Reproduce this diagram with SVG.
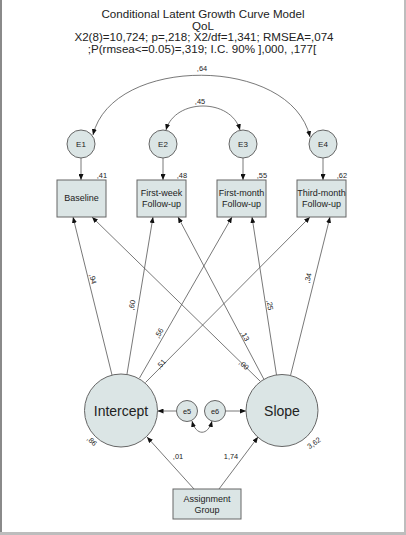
<svg xmlns="http://www.w3.org/2000/svg" width="406" height="535" viewBox="0 0 406 535">
<defs>
<style>
text{font-family:"Liberation Sans",Arial,sans-serif;fill:#222}
.title{font-size:11.6px;text-anchor:middle}
.node{fill:#dbe5e5;stroke:#666;stroke-width:1}
.lbl{font-size:9px;text-anchor:middle}
.num{font-size:7.4px;text-anchor:middle}
.numr{font-size:7.4px;text-anchor:end}
.big{font-size:14px;text-anchor:middle}
.sm{font-size:8px;text-anchor:middle}
.ln{fill:none;stroke:#555;stroke-width:0.8}
</style>
<marker id="ah" markerWidth="7" markerHeight="5" refX="6" refY="2.5" orient="auto-start-reverse" markerUnits="userSpaceOnUse">
<path d="M0,0 L6,2.5 L0,5 z" fill="#111"/>
</marker>
</defs>
<rect x="0" y="0" width="406" height="535" fill="#fff"/>
<rect x="0" y="0" width="2" height="535" fill="#8a8a8a"/>
<rect x="404" y="0" width="2" height="535" fill="#bdbdbd"/>
<rect x="0" y="532" width="406" height="3" fill="#bdbdbd"/>

<g id="title">
<text class="title" x="203" y="18">Conditional Latent Growth Curve Model</text>
<text class="title" x="203" y="29.5">QoL</text>
<text class="title" x="204" y="41">X2(8)=10,724; p=,218; X2/df=1,341; RMSEA=,074</text>
<text class="title" x="202" y="52.5">;P(rmsea&lt;=0.05)=,319; I.C. 90% ],000, ,177[</text>
</g>

<g id="connectors">
<path class="ln" d="M93 135 C112 55, 291 55, 310 137" marker-start="url(#ah)" marker-end="url(#ah)"/>
<path class="ln" d="M166 130 C175 98, 231 98, 240 130" marker-start="url(#ah)" marker-end="url(#ah)"/>
<line class="ln" x1="81" y1="158" x2="81" y2="180" marker-end="url(#ah)"/>
<line class="ln" x1="163" y1="158" x2="163" y2="180" marker-end="url(#ah)"/>
<line class="ln" x1="243" y1="158" x2="243" y2="180" marker-end="url(#ah)"/>
<line class="ln" x1="323" y1="158" x2="323" y2="180" marker-end="url(#ah)"/>
<line class="ln" x1="112" y1="375" x2="73" y2="217" marker-end="url(#ah)"/>
<line class="ln" x1="127" y1="374" x2="153" y2="217" marker-end="url(#ah)"/>
<line class="ln" x1="139.5" y1="378" x2="232" y2="217" marker-end="url(#ah)"/>
<line class="ln" x1="145.5" y1="382.5" x2="310" y2="217" marker-end="url(#ah)"/>
<line class="ln" x1="260.5" y1="381.5" x2="92" y2="217" marker-end="url(#ah)"/>
<line class="ln" x1="264" y1="379.5" x2="178" y2="217" marker-end="url(#ah)"/>
<line class="ln" x1="276.5" y1="375" x2="252" y2="217" marker-end="url(#ah)"/>
<line class="ln" x1="290.5" y1="375.5" x2="330" y2="217" marker-end="url(#ah)"/>
<line class="ln" x1="176.5" y1="411" x2="157.5" y2="411" marker-end="url(#ah)"/>
<line class="ln" x1="225.5" y1="411" x2="246" y2="411" marker-end="url(#ah)"/>
<path class="ln" d="M192 421 C196 436, 208 436, 212 421" marker-start="url(#ah)" marker-end="url(#ah)"/>
<line class="ln" x1="194" y1="489" x2="147" y2="437" marker-end="url(#ah)"/>
<line class="ln" x1="219" y1="489" x2="258" y2="437" marker-end="url(#ah)"/>
<text class="num" x="202" y="71">,64</text>
<text class="num" x="200" y="104">,45</text>
<text class="num" transform="translate(93,279) rotate(76)" dy="0.35em">,94</text>
<text class="num" transform="translate(132,305) rotate(-81)" dy="0.35em">,60</text>
<text class="num" transform="translate(159,333) rotate(-60)" dy="0.35em">,56</text>
<text class="num" transform="translate(161,364) rotate(-45)" dy="0.35em">,51</text>
<text class="num" transform="translate(244,365) rotate(44)" dy="0.35em">,00</text>
<text class="num" transform="translate(245,336) rotate(60)" dy="0.35em">,13</text>
<text class="num" transform="translate(270,305) rotate(80)" dy="0.35em">,25</text>
<text class="num" transform="translate(308,278) rotate(-76)" dy="0.35em">,34</text>
<text class="num" x="178" y="459">,01</text>
<text class="num" x="231" y="459">1,74</text>
</g>

<g id="E1"><circle class="node" cx="81" cy="144" r="14"/><text class="sm" x="81" y="147">E1</text></g>
<g id="E2"><circle class="node" cx="163" cy="144" r="14"/><text class="sm" x="163" y="147">E2</text></g>
<g id="E3"><circle class="node" cx="243" cy="144" r="14"/><text class="sm" x="243" y="147">E3</text></g>
<g id="E4"><circle class="node" cx="323" cy="144" r="14"/><text class="sm" x="323" y="147">E4</text></g>

<g id="Baseline"><rect class="node" x="57" y="180" width="49" height="37"/><text class="lbl" x="81.5" y="201">Baseline</text><text class="numr" x="107" y="178">,41</text></g>
<g id="FirstWeek"><rect class="node" x="137" y="180" width="49" height="37"/><text class="lbl" x="161.5" y="196">First-week</text><text class="lbl" x="161.5" y="206.5">Follow-up</text><text class="numr" x="187" y="178">,48</text></g>
<g id="FirstMonth"><rect class="node" x="217" y="180" width="49" height="37"/><text class="lbl" x="241.5" y="196">First-month</text><text class="lbl" x="241.5" y="206.5">Follow-up</text><text class="numr" x="267" y="178">,55</text></g>
<g id="ThirdMonth"><rect class="node" x="297" y="180" width="49" height="37"/><text class="lbl" x="321.5" y="196">Third-month</text><text class="lbl" x="321.5" y="206.5">Follow-up</text><text class="numr" x="347" y="178">,62</text></g>

<g id="Intercept"><circle class="node" cx="121" cy="410.5" r="36.5"/><text class="big" x="121" y="416">Intercept</text><text class="num" transform="translate(92,441) rotate(45)" dy="0.35em">,86</text></g>
<g id="Slope"><circle class="node" cx="282" cy="410.5" r="36"/><text class="big" x="282" y="416">Slope</text><text class="num" transform="translate(314,443) rotate(-35)" dy="0.35em">3,62</text></g>

<g id="e5"><circle class="node" cx="187" cy="411" r="10.5"/><text class="num" x="187" y="413.5">e5</text></g>
<g id="e6"><circle class="node" cx="215" cy="411" r="10.5"/><text class="num" x="215" y="413.5">e6</text></g>

<g id="AssignmentGroup"><rect class="node" x="173" y="489" width="68" height="30"/><text class="lbl" x="207" y="502">Assignment</text><text class="lbl" x="207" y="513">Group</text></g>
</svg>
